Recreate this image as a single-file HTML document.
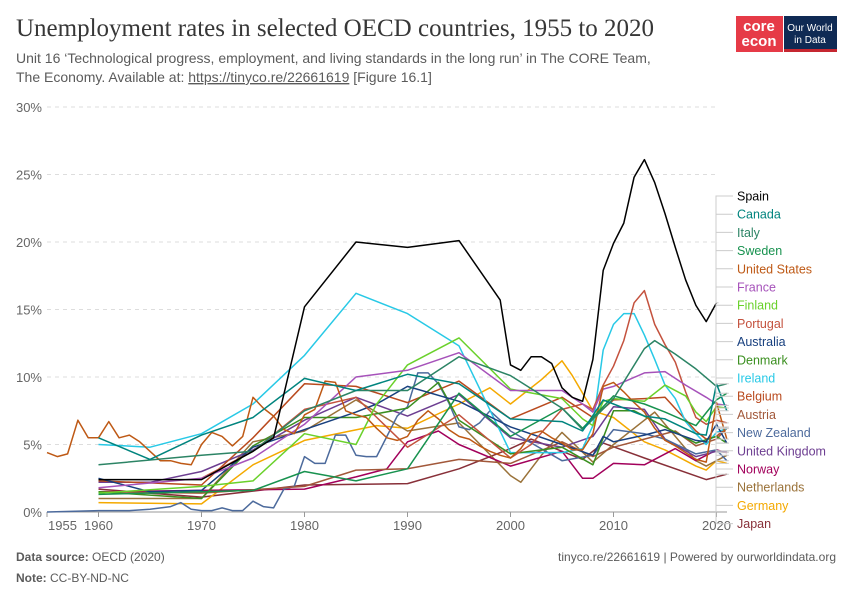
<!DOCTYPE html>
<html><head><meta charset="utf-8"><style>
body{margin:0;background:#fff;width:850px;height:600px;overflow:hidden;font-family:"Liberation Sans",sans-serif}
</style></head><body>
<svg id="chart" width="850" height="600" xmlns="http://www.w3.org/2000/svg">
<text x="16" y="36" font-family="Liberation Serif,serif" font-size="25" fill="#373737">Unemployment rates in selected OECD countries, 1955 to 2020</text>
<text x="16" y="63" font-size="14" fill="#5b5b5b">Unit 16 ‘Technological progress, employment, and living standards in the long run’ in The CORE Team,</text>
<text x="16" y="82" font-size="14" fill="#5b5b5b">The Economy. Available at: <tspan text-decoration="underline">https://tinyco.re/22661619</tspan> [Figure 16.1]</text>
<g>
<rect x="736" y="16" width="47" height="36" fill="#e63a47"/>
<rect x="784" y="16" width="53" height="33" fill="#0f2a54"/>
<rect x="784" y="49" width="53" height="3" fill="#c52630"/>
<text x="759" y="31" font-size="15" font-weight="bold" fill="#fff" text-anchor="middle">core</text>
<text x="759" y="46" font-size="15" font-weight="bold" fill="#fff" text-anchor="middle">econ</text>
<text x="810" y="31" font-size="10" fill="#fff" text-anchor="middle">Our World</text>
<text x="810" y="43" font-size="10" fill="#fff" text-anchor="middle">in Data</text>
</g>
<g id="grid"></g><g id="series"></g><g id="legend"></g>
<text x="16" y="561" font-size="12" fill="#5b5b5b"><tspan font-weight="bold">Data source:</tspan> OECD (2020)</text>
<text x="16" y="582" font-size="12" fill="#5b5b5b"><tspan font-weight="bold">Note:</tspan> CC-BY-ND-NC</text>
<text x="836" y="561" font-size="12" fill="#5b5b5b" text-anchor="end">tinyco.re/22661619 | Powered by ourworldindata.org</text>
</svg>
<script>
const yTicks=[0,5,10,15,20,25,30];
const xTicks=[1955,1960,1970,1980,1990,2000,2010,2020];
const names=["Spain","Canada","Italy","Sweden","United States","France","Finland","Portugal","Australia","Denmark","Ireland","Belgium","Austria","New Zealand","United Kingdom","Norway","Netherlands","Germany","Japan"];
const colors=["#000000","#00847e","#2c8465","#18924f","#be5915","#a652ba","#6ad12b","#c4523e","#18407f","#3a8f1f","#28c9e6","#b94a1e","#a2583a","#4c6a9c","#6d3e91","#a2005b","#9a7239","#f4a900","#883039"];
const spainY=[1960,1970,1975,1977,1980,1985,1990,1995,1999,2000,2001,2002,2003,2004,2005,2006,2007,2008,2009,2010,2011,2012,2013,2014,2015,2016,2017,2018,2019,2020];
const spainV=[2.4,2.4,4.5,5.5,15.2,20,19.6,20.1,15.7,10.9,10.5,11.5,11.5,11,9.2,8.5,8.2,11.3,17.9,19.9,21.4,24.8,26.1,24.4,22.1,19.6,17.2,15.3,14.1,15.5];
const canadaY=[1960,1965,1970,1975,1980,1985,1990,1995,2000,2005,2007,2009,2010,2013,2015,2018,2019,2020,2021];
const canadaV=[5.5,3.9,5.7,7.0,9.9,9.0,10.2,9.5,6.9,6.7,6.0,8.3,8.0,7.1,6.9,5.8,5.7,9.5,7.5];
const italyY=[1960,1970,1975,1980,1985,1990,1995,2000,2005,2007,2010,2013,2014,2016,2018,2020,2021];
const italyV=[3.5,4.2,4.5,7.5,9.0,9.0,11.5,10.1,7.7,6.1,8.4,12.1,12.7,11.7,10.6,9.3,9.5];
const swedenY=[1960,1970,1975,1980,1985,1990,1995,2000,2005,2007,2010,2013,2015,2018,2020,2021];
const swedenV=[1.3,1.5,1.6,3.0,2.3,3.2,8.8,5.6,7.7,6.2,8.6,8.0,7.4,6.4,8.3,8.8];
const usY=[1955,1956,1957,1958,1959,1960,1961,1962,1963,1964,1965,1966,1967,1968,1969,1970,1971,1972,1973,1974,1975,1976,1977,1978,1979,1980,1981,1982,1983,1984,1985,1986,1987,1988,1989,1990,1991,1992,1993,1994,1995,1996,1997,1998,1999,2000,2001,2002,2003,2004,2005,2006,2007,2008,2009,2010,2011,2012,2013,2014,2015,2016,2017,2018,2019,2020,2021];
const usV=[4.4,4.1,4.3,6.8,5.5,5.5,6.7,5.5,5.7,5.2,4.5,3.8,3.8,3.6,3.5,5.0,5.9,5.6,4.9,5.6,8.5,7.7,7.1,6.1,5.8,7.2,7.6,9.7,9.6,7.5,7.2,7.0,6.2,5.5,5.3,5.6,6.8,7.5,6.9,6.1,5.6,5.4,4.9,4.5,4.2,4.0,4.7,5.8,6.0,5.5,5.1,4.6,4.6,5.8,9.3,9.6,8.9,8.1,7.4,6.2,5.3,4.9,4.4,3.9,3.7,8.1,5.4];
const franceY=[1960,1970,1975,1980,1985,1990,1995,2000,2005,2007,2008,2009,2010,2013,2015,2017,2019,2020,2021];
const franceV=[1.8,2.5,4.0,6.5,10.0,10.5,11.8,9.0,9.0,8.0,7.4,9.1,9.3,10.3,10.4,9.4,8.5,8.0,7.9];
const finlandY=[1960,1970,1975,1980,1985,1987,1990,1995,2000,2005,2007,2008,2009,2010,2013,2015,2017,2018,2019,2020,2021];
const finlandV=[1.4,1.9,2.3,5.8,5.0,8.0,10.9,12.9,9.1,8.4,6.9,6.4,8.2,8.4,8.2,9.4,8.6,7.4,6.7,7.8,7.7];
const portugalY=[1970,1975,1980,1985,1990,1995,2000,2002,2005,2007,2008,2009,2010,2011,2012,2013,2014,2015,2016,2017,2018,2019,2020,2021];
const portugalV=[2.5,4.5,7.6,8.5,4.8,7.2,4.0,5.0,7.6,8.0,7.6,9.4,10.8,12.7,15.5,16.4,13.9,12.4,11.1,8.9,7.0,6.5,6.8,6.6];
const australiaY=[1960,1965,1970,1975,1980,1985,1987,1990,1995,2000,2005,2008,2009,2010,2013,2015,2018,2019,2020,2021];
const australiaV=[2.5,1.5,1.6,4.8,6.1,7.4,8.0,9.3,8.2,6.3,5.0,4.2,5.6,5.2,5.7,6.1,5.3,5.2,6.5,5.1];
const denmarkY=[1960,1970,1975,1980,1985,1990,1993,1995,2000,2005,2008,2010,2012,2015,2018,2020,2021];
const denmarkV=[1.5,1.0,4.9,7.0,7.0,7.7,9.6,6.8,4.3,4.8,3.5,7.5,7.5,6.3,5.1,5.6,5.1];
const irelandY=[1960,1965,1970,1975,1980,1985,1990,1995,2000,2005,2007,2008,2009,2010,2011,2012,2013,2014,2015,2016,2017,2018,2019,2020,2021];
const irelandV=[5.0,4.8,5.8,8.0,11.6,16.2,14.7,12.3,4.4,4.4,4.7,6.4,12.0,13.9,14.7,14.7,13.1,11.3,9.4,8.4,6.7,5.8,5.0,5.9,6.2];
const belgiumY=[1960,1970,1975,1980,1985,1990,1995,2000,2005,2008,2010,2013,2015,2018,2019,2020,2021];
const belgiumV=[2.3,2.0,5.5,9.5,9.3,8.1,9.7,6.9,8.5,7.0,8.3,8.4,8.5,6.0,5.4,5.6,6.3];
const austriaY=[1960,1970,1980,1985,1990,1995,2000,2005,2008,2010,2013,2016,2018,2020,2021];
const austriaV=[1.5,1.4,1.9,3.1,3.2,3.9,3.6,5.2,4.1,4.8,5.4,6.0,4.9,5.4,6.2];
const nzY=[1955,1960,1963,1965,1967,1968,1969,1970,1971,1972,1973,1974,1975,1976,1977,1978,1979,1980,1981,1982,1983,1984,1985,1986,1987,1988,1989,1990,1991,1992,1993,1994,1995,1996,1997,1998,1999,2000,2005,2008,2010,2013,2015,2018,2020,2021];
const nzV=[0,0.1,0.1,0.2,0.4,0.7,0.2,0.1,0.1,0.3,0.1,0.1,0.8,0.4,0.3,1.7,1.9,4.1,3.6,3.6,5.7,5.7,4.2,4.1,4.1,5.6,7.1,7.8,10.3,10.3,9.5,8.1,6.3,6.1,6.6,7.5,6.8,6.0,3.8,4.2,6.1,5.8,5.4,4.3,4.6,3.8];
const ukY=[1960,1965,1970,1975,1980,1985,1990,1995,2000,2005,2008,2010,2013,2015,2018,2020,2021];
const ukV=[2.2,2.2,3.0,4.6,6.8,8.5,7.1,8.7,5.5,4.8,5.6,7.8,7.6,5.4,4.1,4.5,4.5];
const norwayY=[1960,1970,1980,1985,1988,1990,1993,1995,2000,2005,2007,2008,2010,2013,2016,2018,2020,2021];
const norwayV=[1.5,1.6,1.7,2.6,3.2,5.2,6.0,5.0,3.4,4.5,2.5,2.5,3.6,3.5,4.7,3.8,4.6,4.4];
const nethY=[1960,1970,1975,1980,1985,1990,1995,2000,2001,2003,2005,2008,2010,2014,2018,2019,2020,2021];
const nethV=[1.0,1.0,5.2,6.0,8.3,6.0,6.6,2.7,2.2,4.2,5.9,3.7,5.0,7.4,3.8,3.4,3.8,4.2];
const germanyY=[1960,1970,1975,1980,1987,1990,1995,1998,2000,2003,2005,2006,2008,2010,2013,2015,2018,2019,2020,2021];
const germanyV=[0.7,0.6,3.5,5.3,6.4,6.2,8.0,9.2,8.0,9.8,11.2,10.1,7.5,7.0,5.2,4.6,3.4,3.1,3.8,3.6];
const japanY=[1960,1970,1980,1990,1995,2000,2002,2007,2009,2013,2019,2021];
const japanV=[1.7,1.1,2.0,2.1,3.2,4.7,5.4,3.9,5.1,4.0,2.4,2.8];
const allYears=[spainY,canadaY,italyY,swedenY,usY,franceY,finlandY,portugalY,australiaY,denmarkY,irelandY,belgiumY,austriaY,nzY,ukY,norwayY,nethY,germanyY,japanY];
const allValues=[spainV,canadaV,italyV,swedenV,usV,franceV,finlandV,portugalV,australiaV,denmarkV,irelandV,belgiumV,austriaV,nzV,ukV,norwayV,nethV,germanyV,japanV];

const NS="http://www.w3.org/2000/svg";
const X=y=>47+(y-1955)*10.3;
const Y=v=>512-v*13.5;
function mk(tag,attrs,parent){const e=document.createElementNS(NS,tag);for(const k in attrs)e.setAttribute(k,attrs[k]);parent.appendChild(e);return e;}
const grid=document.getElementById('grid');
yTicks.forEach(t=>{
  if(t>0){const l=mk('line',{x1:47,x2:717,y1:Y(t),y2:Y(t),stroke:'#ddd','stroke-dasharray':'4 4'},grid);
  
  }
  const tx=mk('text',{x:42,y:Y(t)+5,'font-size':13,fill:'#666','text-anchor':'end'},grid);tx.textContent=t+'%';
  
  
});
const ax=mk('line',{x1:47,x2:727,y1:512,y2:512,stroke:'#999'},grid);


xTicks.forEach(t=>{
  mk('line',{x1:X(t),x2:X(t),y1:512,y2:517,stroke:'#999'},grid);
  const tx=mk('text',{x:t===1955?48:X(t),y:530,'font-size':13,fill:'#666','text-anchor':t===1955?'start':'middle'},grid);tx.textContent=t;
  
  
});
const sg=document.getElementById('series'),lg=document.getElementById('legend');
for(let i=names.length-1;i>=0;i--){
  const ys=allYears[i],vs=allValues[i];
  const d=ys.map((y,j)=>(j?'L':'M')+X(y).toFixed(1)+','+Y(vs[j]).toFixed(1)).join('');
  const p=mk('path',{d:d,fill:'none',stroke:colors[i],'stroke-width':1.5,'stroke-linejoin':'round'},sg);
  
  
}
names.forEach((n,i)=>{
  const ys=allYears[i],vs=allValues[i];
  const ey=Y(vs[vs.length-1]),ly=196+i*18.2;
  mk('path',{d:`M${X(ys[ys.length-1])+2},${ey}H716V${ly}H733`,fill:'none',stroke:'#ccc','stroke-width':1},lg);
  const t=mk('text',{x:737,y:ly+4.5,'font-size':12.5,fill:colors[i]},lg);t.textContent=n;
  
  
});
</script>
</body></html>
